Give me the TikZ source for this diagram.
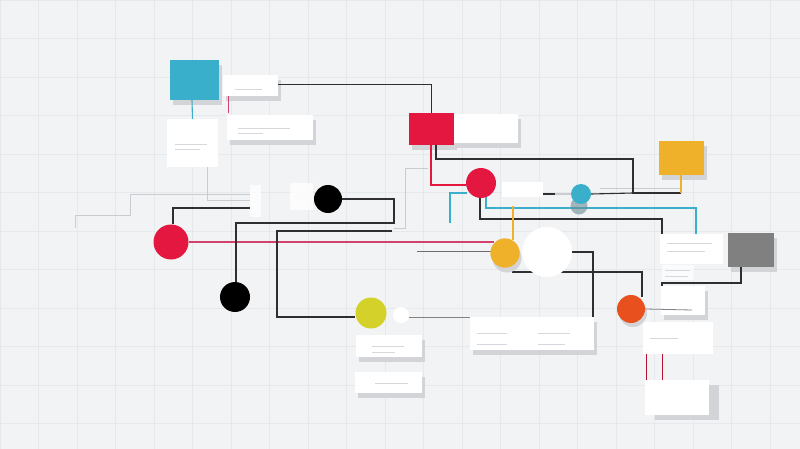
\documentclass[tikz,border=0pt]{standalone}
\usetikzlibrary{shadows}
\definecolor{bg}{HTML}{F1F3F5}
\definecolor{gridc}{HTML}{E6E9EC}
\definecolor{cblue}{HTML}{3AAFCB}
\definecolor{cred}{HTML}{E3173F}
\definecolor{cpink}{HTML}{D2426F}
\definecolor{cyellow}{HTML}{F0B12A}
\definecolor{cgray}{HTML}{808080}
\definecolor{corange}{HTML}{E8501E}
\definecolor{cyg}{HTML}{D4D22A}
\definecolor{cdark}{HTML}{2E2E33}
\definecolor{cfaint}{HTML}{C9CDD2}
\definecolor{shadowc}{HTML}{D2D4D7}
\definecolor{txtc}{HTML}{D6D8DB}
\tikzset{
  sh/.style={drop shadow={shadow xshift=3pt,shadow yshift=-5pt,fill=shadowc,opacity=1}},
  sq/.style={rectangle,inner sep=0,draw=none,sh},
  wbox/.style={rectangle,inner sep=0,draw=none,fill=white},
  wsbox/.style={wbox,sh},
  dot/.style={circle,inner sep=0,draw=none},
  conn/.style={cdark,line width=1.1pt},
  faint/.style={cfaint,line width=0.7pt},
  txt/.style={txtc,line width=0.8pt},
}
\begin{document}
\begin{tikzpicture}[x=1pt,y=-1pt]
\fill[bg] (0,0) rectangle (800,449);
\useasboundingbox (0,0) rectangle (800,449);
\foreach \i in {0,...,20} {\draw[gridc,line width=0.5pt] (\i*38.5,0) -- (\i*38.5,449);}
\foreach \j in {0,...,12} {\draw[gridc,line width=0.5pt] (0,\j*38.5) -- (800,\j*38.5);}

% faint background lines
\draw[faint] (75,228) -- (75,215) -- (130,215) -- (130,194) -- (250,194);
\draw[faint] (207,167) -- (207,200) -- (250,200);
\draw[faint] (428,168) -- (405,168) -- (405,228) -- (394,228);
\draw[faint] (600,188) -- (680,188);
\fill[white,opacity=0.8] (250,185) rectangle (261,217);
\fill[white,opacity=0.8] (290,183) rectangle (313,210);

% nodes
\node[sq,fill=cblue,minimum width=49pt,minimum height=40pt] (blueSq) at (194.5,80) {};
\node[wbox,minimum width=51pt,minimum height=48pt] (blueNote) at (192.5,143) {};
\node[wsbox,minimum width=55pt,minimum height=21pt] (blueLabel) at (250.5,85.5) {};
\node[wsbox,minimum width=86pt,minimum height=25pt] (box2) at (270,127.5) {};
\node[sq,fill=cred,minimum width=45pt,minimum height=32pt] (redRect) at (431.5,129) {};
\node[wsbox,minimum width=64pt,minimum height=29pt] (redLabel) at (486,128.5) {};
\node[wbox,minimum width=41pt,minimum height=15pt] (smallWhite) at (522.5,189.5) {};
\node[sq,fill=cyellow,minimum width=45pt,minimum height=34pt] (yellowSq) at (681.5,158) {};
\node[sq,fill=cgray,minimum width=46pt,minimum height=34pt] (graySq) at (751,250) {};
\node[wbox,minimum width=63pt,minimum height=30pt] (boxA) at (691.5,249) {};
\node[wbox,fill opacity=0.7,minimum width=32pt,minimum height=15pt] (boxA2) at (678,272.5) {};
\node[wsbox,minimum width=44pt,minimum height=29pt] (boxB) at (683,300.5) {};
\node[wbox,minimum width=70pt,minimum height=32pt] (boxC) at (678,338) {};
\node[wbox,minimum width=64pt,minimum height=35pt,drop shadow={shadow xshift=10pt,shadow yshift=-5pt,fill=shadowc,opacity=1}] (boxD) at (677,397.5) {};
\node[wsbox,minimum width=124pt,minimum height=33pt] (boxE) at (532,333.5) {};
\node[wsbox,minimum width=66pt,minimum height=22pt] (boxF) at (389,346) {};
\node[wsbox,minimum width=67pt,minimum height=21pt] (boxG) at (388.5,382.5) {};

% text lines
\draw[txt] (175,144) -- (207,144) (175,149) -- (200,149);
\draw[txt] (235,89) -- (262,89);
\draw[txt] (238,128) -- (290,128) (238,133) -- (263,133);
\draw[txt] (667,243) -- (712,243) (667,251) -- (705,251);
\draw[txt] (665,270) -- (690,270) (665,276) -- (688,276);
\draw[txt] (650,338) -- (678,338);
\draw[txt] (477,333) -- (507,333) (477,344) -- (507,344) (538,333) -- (570,333) (538,344) -- (565,344);
\draw[txt] (372,346) -- (404,346) (372,352) -- (395,352);
\draw[txt] (375,383) -- (408,383);

% connectors
\draw[cblue,line width=1.1pt] (blueSq.south -| blueNote.north) ++(-0.5,0) -- (blueNote.north);
\draw[cdark,line width=0.8pt] (blueLabel.east |- 0,84) -- (431,84) -- (redRect.north -| 431,0);
\draw[cpink,line width=1pt] (228,96) -- (228,113);
\coordinate (rr1) at (431,185);
\draw[cred,line width=1.1pt] (redRect.south -| rr1) -- (rr1) -- (rr1 -| 466,0);
\coordinate (bb) at (633,193);
\draw[conn] (redRect.south -| 436,0) -- (436,159) -- (633,159) -- (bb) -- (681,193);
\draw[cyellow,line width=1.1pt] (681,193) -- (yellowSq.south -| 681,0);
\draw[conn] (543,194) -- (555,194);
\draw[cfaint,line width=1.4pt] (555,194) -- (571,194);
\draw[cblue,line width=1.1pt] (450,223) -- (450,193) -- (467,193);
\draw[cblue,line width=1.1pt] (486,196) -- (486,208) -- (696,208) -- (boxA.north -| 696,0);
\draw[conn] (480,198) -- (480,219) -- (662,219) -- (boxA.north -| 662,0);
\draw[cyellow,line width=1.1pt] (513,206) -- (513,240);
\draw[cdark!70,line width=0.8pt] (417,251) -- (491,251);
\draw[conn] (571,252) -- (593,252) -- (boxE.north -| 593,0);
\draw[conn] (513,266) -- (513,272) -- (642,272) -- (642,297);
\draw[conn] (graySq.south -| 741,0) -- (741,283) -- (662,283) -- (boxB.north -| 662,0);
\draw[cred!80!black,line width=0.9pt] (boxC.south -| 646,0) -- (boxD.north -| 646,0);
\draw[cred!80!black,line width=0.9pt] (boxC.south -| 662,0) -- (boxD.north -| 662,0);

% circles
\node[dot,fill=white,minimum size=50pt] (whiteCirc) at (547,252) {};
\node[dot,fill=cred,minimum size=30pt] (redCirc) at (481,183) {};
\node[dot,fill=gray!70!cblue,opacity=0.6,minimum size=17pt] (blueShadow) at (579,206) {};
\node[dot,fill=cblue,minimum size=20pt] (blueCirc) at (581,194) {};
\draw[conn] (bb) -- (blueCirc.east);
\node[dot,fill=cyellow,minimum size=29pt,drop shadow={shadow xshift=2pt,shadow yshift=-5pt,fill=shadowc,opacity=1}] (yellowCirc) at (505,253) {};
\node[dot,fill=corange,minimum size=28pt,drop shadow={shadow xshift=2pt,shadow yshift=-4pt,fill=shadowc,opacity=1}] (orangeCirc) at (631,309) {};
\draw[cdark!60,line width=0.8pt] (orangeCirc.east) -- (692,310);
\node[dot,fill=cred,minimum size=35pt] (redBig) at (171,242) {};
\draw[cpink,line width=1.1pt] (redBig.east) -- (redBig.east -| yellowCirc.west) -- ++(4,0);
\node[dot,fill=cyellow,minimum size=29pt] (yellowCircTop) at (yellowCirc.center) {};
\node[dot,fill=black,minimum size=28pt] (black1) at (328,199) {};
\node[dot,fill=black,minimum size=30pt] (black2) at (235,297) {};
\node[dot,fill=cyg,minimum size=31pt] (ygCirc) at (371,313) {};
\node[dot,fill=white,minimum size=16pt] (tinyWhite) at (401,315) {};
\draw[conn] (redBig.north -| 173,0) -- (173,208) -- (250,208);
\draw[conn] (black1.east) -- (394,199) -- (394,223) -- (236,223) -- (black2.north -| 236,0);
\draw[conn] (392,231) -- (277,231) -- (277,317) -- (ygCirc.west |- 0,317);
\draw[cdark!60,line width=0.8pt] (tinyWhite.east |- 0,317) -- (boxE.west |- 0,317);
\end{tikzpicture}
\end{document}
